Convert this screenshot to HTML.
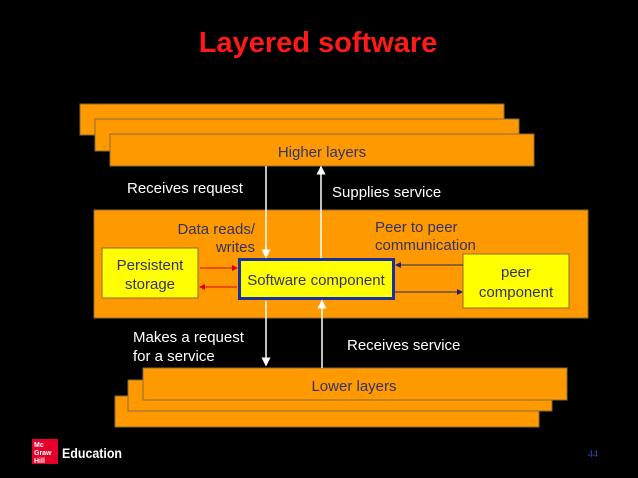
<!DOCTYPE html>
<html><head><style>
body{margin:0;background:#000;}
svg{display:block;font-family:"Liberation Sans",Arial,sans-serif;}
</style></head><body>
<svg width="638" height="478" viewBox="0 0 638 478">
<defs>
<marker id="aw" markerWidth="6" markerHeight="6" refX="5" refY="3" orient="auto"><path d="M0,0L6,3L0,6z" fill="#fff"/></marker>
<marker id="ar" markerWidth="6" markerHeight="6" refX="5" refY="3" orient="auto"><path d="M0,0L6,3L0,6z" fill="#d00"/></marker>
<marker id="ab" markerWidth="6" markerHeight="6" refX="5" refY="3" orient="auto"><path d="M0,0L6,3L0,6z" fill="#226"/></marker>
</defs>
<text x="318" y="52" text-anchor="middle" fill="#ff1a1a" font-size="29" font-weight="bold">Layered software</text>
<g fill="#ff9900" stroke="#8a6a40" stroke-width="1">
<rect x="80" y="104" width="424" height="31"/>
<rect x="95" y="119" width="424" height="32"/>
<rect x="110" y="134" width="424" height="32"/>
<rect x="94" y="210" width="494" height="108"/>
<rect x="115" y="396" width="424" height="31"/>
<rect x="128" y="380" width="424" height="31"/>
<rect x="143" y="368" width="424" height="32"/>
</g>
<text x="322" y="157" text-anchor="middle" fill="#333366" font-size="15">Higher layers</text>
<text x="354" y="391" text-anchor="middle" fill="#333366" font-size="15">Lower layers</text>
<g fill="#fff" font-size="15">
<text x="127" y="193">Receives request</text>
<text x="332" y="197">Supplies service</text>
<text x="133" y="342">Makes a request</text>
<text x="133" y="361">for a service</text>
<text x="347" y="350">Receives service</text>
</g>
<g fill="#333366" font-size="15">
<text x="255" y="234" text-anchor="end">Data reads/</text>
<text x="255" y="252" text-anchor="end">writes</text>
<text x="375" y="232">Peer to peer</text>
<text x="375" y="250">communication</text>
</g>
<rect x="102" y="248" width="96" height="50" fill="#ffff00" stroke="#8a6a40"/>
<text x="150" y="270" text-anchor="middle" fill="#333366" font-size="15">Persistent</text>
<text x="150" y="289" text-anchor="middle" fill="#333366" font-size="15">storage</text>
<rect x="239.5" y="259.5" width="154" height="39" fill="#ffff00" stroke="#1a2fa0" stroke-width="3"/>
<text x="316" y="285" text-anchor="middle" fill="#333366" font-size="15">Software component</text>
<rect x="463" y="254" width="106" height="54" fill="#ffff00" stroke="#8a6a40"/>
<text x="516" y="277" text-anchor="middle" fill="#333366" font-size="15">peer</text>
<text x="516" y="297" text-anchor="middle" fill="#333366" font-size="15">component</text>
<g stroke="#fff" stroke-width="1.5">
<line x1="266" y1="166" x2="266" y2="257" marker-end="url(#aw)"/>
<line x1="321" y1="258" x2="321" y2="167" marker-end="url(#aw)"/>
<line x1="266" y1="301" x2="266" y2="365" marker-end="url(#aw)"/>
<line x1="322" y1="368" x2="322" y2="301" marker-end="url(#aw)"/>
</g>
<g stroke="#d00" stroke-width="1">
<line x1="200" y1="268" x2="237" y2="268" marker-end="url(#ar)"/>
<line x1="237" y1="287" x2="200" y2="287" marker-end="url(#ar)"/>
</g>
<g stroke="#226" stroke-width="1">
<line x1="463" y1="265" x2="396" y2="265" marker-end="url(#ab)"/>
<line x1="395" y1="292" x2="462" y2="292" marker-end="url(#ab)"/>
</g>
<rect x="32" y="439" width="26" height="25" fill="#e4002b"/>
<text x="34" y="447" fill="#fff" font-size="7" font-weight="bold">Mc</text>
<text x="34" y="455" fill="#fff" font-size="7" font-weight="bold">Graw</text>
<text x="34" y="463" fill="#fff" font-size="7" font-weight="bold">Hill</text>
<text x="62" y="458" fill="#fff" font-size="14" font-weight="bold" textLength="60" lengthAdjust="spacingAndGlyphs">Education</text>
<text x="593" y="457" text-anchor="middle" fill="#3344aa" font-size="10" font-family="Liberation Serif,serif">44</text>
</svg>
</body></html>
